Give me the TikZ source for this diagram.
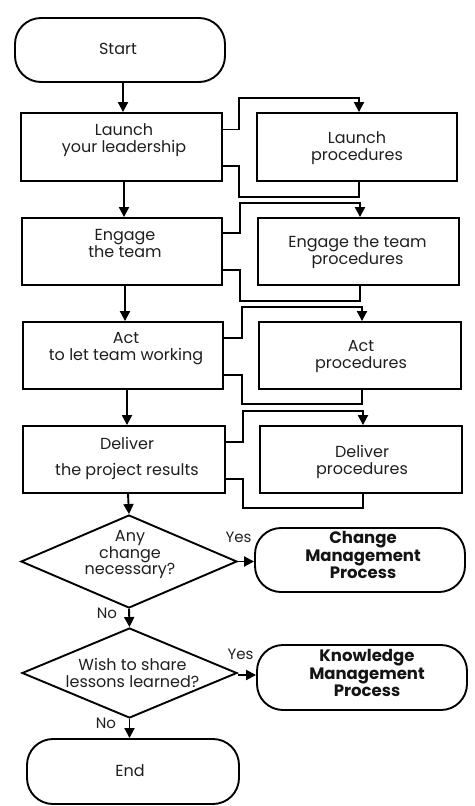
\documentclass[tikz,border=0pt]{standalone}
\usepackage{fontspec}
\setmainfont{Poppins}
\usetikzlibrary{arrows.meta,shapes.geometric,calc}
\begin{document}
\begin{tikzpicture}[x=1pt,y=-1pt,
  line width=1.9pt,
  box/.style={draw, rectangle, inner sep=0pt},
  term/.style={draw, rectangle, rounded corners=26pt, inner sep=0pt},
  dia/.style={draw, diamond, inner sep=0pt},
  txt/.style={font=\fontsize{16}{17}\selectfont, align=center, inner sep=0pt, text=black!88},
  btxt/.style={font=\bfseries\fontsize{16.5}{16}\selectfont, align=center, inner sep=0pt, text=black!92},
  lbl/.style={font=\fontsize{15}{16}\selectfont, inner sep=0pt, text=black!88},
  arr/.style={-{Triangle[length=10pt,width=10pt]}}
]
\useasboundingbox (0,0) rectangle (474,806);

% boxes
\node[term, minimum width=210pt, minimum height=64pt] (start) at (120,50) {};
\node[box, minimum width=201pt, minimum height=68pt] (b1) at (121.5,147) {};
\node[box, minimum width=200pt, minimum height=68pt] (p1) at (357,147) {};
\node[box, minimum width=200pt, minimum height=67pt] (b2) at (122,251.5) {};
\node[box, minimum width=201pt, minimum height=67pt] (p2) at (358.5,251.5) {};
\node[box, minimum width=200pt, minimum height=67pt] (b3) at (123,355.5) {};
\node[box, minimum width=202pt, minimum height=67pt] (p3) at (360,355.5) {};
\node[box, minimum width=202pt, minimum height=67pt] (b4) at (124,459.5) {};
\node[box, minimum width=202pt, minimum height=67pt] (p4) at (361,459.5) {};
\node[dia, minimum width=216pt, minimum height=93pt] (d1) at (129,561.5) {};
\node[term, minimum width=210pt, minimum height=64pt] (chg) at (360,560) {};
\node[dia, minimum width=215pt, minimum height=90pt] (d2) at (129.5,673) {};
\node[term, minimum width=210pt, minimum height=65pt] (km) at (362,677.5) {};
\node[term, minimum width=212pt, minimum height=65pt] (end) at (133,771.5) {};

% texts
\node[txt] (tstart) at (118,49) {Start};
\node[txt] (tb1) at (124,140.5) {Launch\\your leadership};
\node[txt] (tp1) at (357,148.5) {Launch\\procedures};
\node[txt] (tb2) at (125,243) {Engage\\the team};
\node[txt] (tp2) at (357.5,252.5) {Engage the team\\procedures};
\node[txt] (tb3) at (126,348.5) {Act\\to let team working};
\node[txt] (tp3) at (361,356.5) {Act\\procedures};
\node[txt] (tb4) at (127,458) {Deliver\\[9pt]the project results};
\node[txt] (tp4) at (362,461.5) {Deliver\\procedures};
\node[txt, font=\fontsize{16}{14}\selectfont] (td1) at (130,554.5) {Any\\change\\necessary?};
\node[btxt] (tchg) at (363,555) {Change\\Management\\Process};
\node[txt] (td2) at (132.5,672.5) {Wish to share\\lessons learned?};
\node[btxt] (tkm) at (367,673) {Knowledge\\Management\\Process};
\node[txt] (tend) at (130,771) {End};
\node[lbl] (yes1) at (238.5,537.5) {Yes};
\node[lbl] (no1) at (107,613) {No};
\node[lbl] (yes2) at (240.5,654) {Yes};
\node[lbl] (no2) at (106,723) {No};

% main vertical flow
\coordinate (x1) at (123,0);
\coordinate (x2) at (124,0);
\coordinate (x3) at (125,0);
\coordinate (x4) at (127,0);
\coordinate (x5) at (128,0);
\draw[arr] (start.south -| x1) -- (b1.north -| x1);
\draw[arr] (b1.south -| x2) -- (b2.north -| x2);
\draw[arr] (b2.south -| x3) -- (b3.north -| x3);
\draw[arr] (b3.south -| x4) -- (b4.north -| x4);
\draw[arr] (b4.south -| x5) -- (d1.north);
\draw[arr] (d1.south) -- (d2.north);
\draw[arr] (d2.south) -- (end.north -| d2.south);

% yes branches
\draw[arr] (d1.east) -- (d1.east -| chg.west);
\coordinate (y2) at (0,675);
\draw[arr] (d2.east |- y2) -- (km.west |- y2);

% side connectors
\coordinate (e1) at (239,98);  \coordinate (f1) at (359,98);
\coordinate (h1) at (239,197); \coordinate (g1) at (359,197);
\draw[arr] ($(b1.north east)!0.25!(b1.south east)$) -| (e1) -- (f1) -- (f1 |- p1.north);
\draw ($(b1.north east)!0.77!(b1.south east)$) -| (h1) -- (g1) -- (g1 |- p1.south);

\coordinate (e2) at (240,203); \coordinate (f2) at (360,203);
\coordinate (h2) at (240,301); \coordinate (g2) at (360,301);
\draw[arr] ($(b2.north east)!0.23!(b2.south east)$) -| (e2) -- (f2) -- (f2 |- p2.north);
\draw ($(b2.north east)!0.77!(b2.south east)$) -| (h2) -- (g2) -- (g2 |- p2.south);

\coordinate (e3) at (242,307); \coordinate (f3) at (362,307);
\coordinate (h3) at (242,404); \coordinate (g3) at (362,404);
\draw[arr] ($(b3.north east)!0.24!(b3.south east)$) -| (e3) -- (f3) -- (f3 |- p3.north);
\draw ($(b3.north east)!0.78!(b3.south east)$) -| (h3) -- (g3) -- (g3 |- p3.south);

\coordinate (e4) at (243,411); \coordinate (f4) at (363,411);
\coordinate (h4) at (243,508); \coordinate (g4) at (363,508);
\draw[arr] ($(b4.north east)!0.24!(b4.south east)$) -| (e4) -- (f4) -- (f4 |- p4.north);
\draw ($(b4.north east)!0.78!(b4.south east)$) -| (h4) -- (g4) -- (g4 |- p4.south);
\end{tikzpicture}
\end{document}
